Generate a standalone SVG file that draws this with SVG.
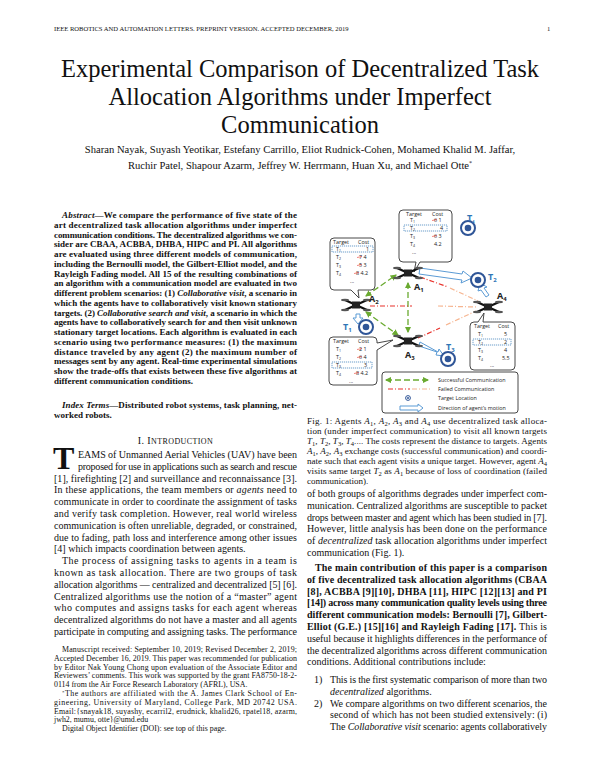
<svg xmlns="http://www.w3.org/2000/svg" width="600" height="776" viewBox="0 0 600 776">
<style>
text{font-family:"Liberation Serif","Times New Roman",serif;fill:#111}
.hd{font-size:6.6px}
.ti{font-size:24.5px;text-anchor:middle}
.au{font-size:10.6px;text-anchor:middle}
.ab{font-size:9px;font-weight:bold}
.b{font-size:10px}
.fn{font-size:7.9px}
.cp{font-size:9px}
.it{font-style:italic}
.bd{font-weight:bold}
.f{font-family:"Open Sans","DejaVu Sans",sans-serif;font-size:5.4px;fill:#222}
.fl{font-family:"Open Sans","DejaVu Sans",sans-serif;font-size:9px;font-weight:bold;fill:#222}
.fb{font-family:"Open Sans","DejaVu Sans",sans-serif;font-size:9px;font-weight:bold;fill:#2e75b6}
.call{fill:#fff;stroke:#333;stroke-width:0.9}
.sel{fill:none;stroke:#2e75b6;stroke-width:0.7;stroke-dasharray:1.2 0.8}
.ok{stroke:#6aaa30;stroke-width:1.3;stroke-dasharray:6 3;fill:none}
.bad{stroke:#e8302a;stroke-width:1.2;stroke-dasharray:5 2 1 2;fill:none}
.fade{stroke:#f6b48f;stroke-width:1.2;stroke-dasharray:5 2 1 2;fill:none}
.mv{fill:#fff;stroke:#5b9bd5;stroke-width:1}
.st{stroke:#e8302a;stroke-width:0.6}
</style>
<defs>
<marker id="ag" viewBox="0 0 6 6" refX="5" refY="3" markerWidth="5" markerHeight="5" orient="auto-start-reverse"><path d="M0,0L6,3L0,6z" fill="#6aaa30"/></marker>
<g id="tgt"><circle r="7" fill="#fff" stroke="#2f5597" stroke-width="2"/><circle r="3.3" fill="#2f5597"/></g>
<g id="drone"><path d="M-11,-5L11,5M-11,5L11,-5" stroke="#111" stroke-width="2.2"/><ellipse cx="-11" cy="-5" rx="4" ry="1.2" fill="#555"/><ellipse cx="11" cy="-5" rx="4" ry="1.2" fill="#555"/><ellipse cx="-11" cy="5" rx="4" ry="1.2" fill="#555"/><ellipse cx="11" cy="5" rx="4" ry="1.2" fill="#555"/><rect x="-4" y="-3.5" width="8" height="7" fill="#222"/></g>
</defs>

<g id="header">
<text class="hd" x="54" y="31">IEEE ROBOTICS AND AUTOMATION LETTERS. PREPRINT VERSION. ACCEPTED DECEMBER, 2019</text>
<text class="hd" x="547" y="31">1</text>
</g>
<g id="title">
<text class="ti" x="300" y="77">Experimental Comparison of Decentralized Task</text>
<text class="ti" x="300" y="105">Allocation Algorithms under Imperfect</text>
<text class="ti" x="300" y="133">Communication</text>
<text class="au" x="300" y="153">Sharan Nayak, Suyash Yeotikar, Estefany Carrillo, Eliot Rudnick-Cohen, Mohamed Khalid M. Jaffar,</text>
<text class="au" x="300" y="169">Ruchir Patel, Shapour Azarm, Jeffrey W. Herrmann, Huan Xu, and Michael Otte<tspan font-size="6" dy="-4">*</tspan></text>
</g>

<g id="abstract">
<text class="ab" x="62" y="218" textLength="235" lengthAdjust="spacing"><tspan class="it">Abstract</tspan>—We compare the performance of five state of the</text>
<text class="ab" x="54" y="227.8" textLength="243" lengthAdjust="spacing">art decentralized task allocation algorithms under imperfect</text>
<text class="ab" x="54" y="237.5" textLength="243" lengthAdjust="spacing">communication conditions. The decentralized algorithms we con-</text>
<text class="ab" x="54" y="247.3" textLength="243" lengthAdjust="spacing">sider are CBAA, ACBBA, DHBA, HIPC and PI. All algorithms</text>
<text class="ab" x="54" y="257" textLength="243" lengthAdjust="spacing">are evaluated using three different models of communication,</text>
<text class="ab" x="54" y="266.8" textLength="243" lengthAdjust="spacing">including the Bernoulli model, the Gilbert-Elliot model, and the</text>
<text class="ab" x="54" y="276.5" textLength="243" lengthAdjust="spacing">Rayleigh Fading model. All 15 of the resulting combinations of</text>
<text class="ab" x="54" y="286.3" textLength="243" lengthAdjust="spacing">an algorithm with a communication model are evaluated in two</text>
<text class="ab" x="54" y="296" textLength="243" lengthAdjust="spacing">different problem scenarios: (1) <tspan class="it">Collaborative visit</tspan>, a scenario in</text>
<text class="ab" x="54" y="305.8" textLength="243" lengthAdjust="spacing">which the agents have to collaboratively visit known stationary</text>
<text class="ab" x="54" y="315.5" textLength="243" lengthAdjust="spacing">targets. (2) <tspan class="it">Collaborative search and visit</tspan>, a scenario in which the</text>
<text class="ab" x="54" y="325.3" textLength="243" lengthAdjust="spacing">agents have to collaboratively search for and then visit unknown</text>
<text class="ab" x="54" y="335" textLength="243" lengthAdjust="spacing">stationary target locations. Each algorithm is evaluated in each</text>
<text class="ab" x="54" y="344.8" textLength="243" lengthAdjust="spacing">scenario using two performance measures: (1) the maximum</text>
<text class="ab" x="54" y="354.5" textLength="243" lengthAdjust="spacing">distance traveled by any agent (2) the maximum number of</text>
<text class="ab" x="54" y="364.3" textLength="243" lengthAdjust="spacing">messages sent by any agent. Real-time experimental simulations</text>
<text class="ab" x="54" y="374" textLength="243" lengthAdjust="spacing">show the trade-offs that exists between these five algorithms at</text>
<text class="ab" x="54" y="383.8">different communication conditions.</text>
<text class="ab" x="62" y="408" textLength="235" lengthAdjust="spacing"><tspan class="it">Index Terms</tspan>—Distributed robot systems, task planning, net-</text>
<text class="ab" x="54" y="418">worked robots.</text>
</g>

<g id="intro">
<text class="b" x="175.5" y="444" text-anchor="middle" letter-spacing="0.4">I. I<tspan font-size="8">NTRODUCTION</tspan></text>
<text x="53" y="468.5" font-size="32" font-weight="bold">T</text>
<text class="b" x="78" y="458" textLength="219" lengthAdjust="spacing">EAMS of Unmanned Aerial Vehicles (UAV) have been</text>
<text class="b" x="78" y="469.8" textLength="219" lengthAdjust="spacing">proposed for use in applications such as search and rescue</text>
<text class="b" x="54" y="481.6" textLength="243" lengthAdjust="spacing">[1], firefighting [2] and surveillance and reconnaissance [3].</text>
<text class="b" x="54" y="493.4" textLength="243" lengthAdjust="spacing">In these applications, the team members or <tspan class="it">agents</tspan> need to</text>
<text class="b" x="54" y="505.2" textLength="243" lengthAdjust="spacing">communicate in order to coordinate the assignment of tasks</text>
<text class="b" x="54" y="517" textLength="243" lengthAdjust="spacing">and verify task completion. However, real world wireless</text>
<text class="b" x="54" y="528.8" textLength="243" lengthAdjust="spacing">communication is often unreliable, degraded, or constrained,</text>
<text class="b" x="54" y="540.6" textLength="243" lengthAdjust="spacing">due to fading, path loss and interference among other issues</text>
<text class="b" x="54" y="552.4">[4] which impacts coordination between agents.</text>
<text class="b" x="62" y="564.2" textLength="235" lengthAdjust="spacing">The process of assigning tasks to agents in a team is</text>
<text class="b" x="54" y="576" textLength="243" lengthAdjust="spacing">known as task allocation. There are two groups of task</text>
<text class="b" x="54" y="587.8" textLength="243" lengthAdjust="spacing">allocation algorithms — centralized and decentralized [5] [6].</text>
<text class="b" x="54" y="599.6" textLength="243" lengthAdjust="spacing">Centralized algorithms use the notion of a “master” agent</text>
<text class="b" x="54" y="611.4" textLength="243" lengthAdjust="spacing">who computes and assigns tasks for each agent whereas</text>
<text class="b" x="54" y="623.2" textLength="243" lengthAdjust="spacing">decentralized algorithms do not have a master and all agents</text>
<text class="b" x="54" y="635" textLength="243" lengthAdjust="spacing">participate in computing and assigning tasks. The performance</text>
</g>

<g id="footnotes">
<text class="fn" x="62" y="652" textLength="235" lengthAdjust="spacing">Manuscript received: September 10, 2019; Revised December 2, 2019;</text>
<text class="fn" x="54" y="660.8" textLength="243" lengthAdjust="spacing">Accepted December 16, 2019. This paper was recommended for publication</text>
<text class="fn" x="54" y="669.6" textLength="243" lengthAdjust="spacing">by Editor Nak Young Chong upon evaluation of the Associate Editor and</text>
<text class="fn" x="54" y="678.4" textLength="243" lengthAdjust="spacing">Reviewers’ comments. This work was supported by the grant FA8750-18-2-</text>
<text class="fn" x="54" y="687.2">0114 from the Air Force Research Laboratory (AFRL), USA.</text>
<text class="fn" x="62" y="696" textLength="235" lengthAdjust="spacing"><tspan font-size="5" dy="-2.5">*</tspan><tspan dy="2.5">The authors are affiliated with the A. James Clark School of En-</tspan></text>
<text class="fn" x="54" y="704.8" textLength="243" lengthAdjust="spacing">gineering, University of Maryland, College Park, MD 20742 USA.</text>
<text class="fn" x="54" y="713.6" textLength="243" lengthAdjust="spacing">Email:{snayak18, suyashy, ecarril2, erudnick, khalid26, rpatel18, azarm,</text>
<text class="fn" x="54" y="722.4">jwh2, mumu, otte}@umd.edu</text>
<text class="fn" x="62" y="731.2">Digital Object Identifier (DOI): see top of this page.</text>
</g>

<g id="figure">
<g id="connectors">
<line class="ok" x1="366" y1="296" x2="396" y2="275" marker-start="url(#ag)" marker-end="url(#ag)"/>
<line class="ok" x1="366" y1="312" x2="398" y2="335" marker-start="url(#ag)" marker-end="url(#ag)"/>
<line class="ok" x1="408" y1="283" x2="408" y2="332" marker-start="url(#ag)" marker-end="url(#ag)"/>
<line class="bad" x1="420" y1="277" x2="448" y2="287"/>
<line class="fade" x1="450" y1="288" x2="478" y2="301"/>
<line class="bad" x1="370" y1="306" x2="412" y2="306"/>
<line class="fade" x1="438" y1="306" x2="476" y2="307"/>
<line class="bad" x1="418" y1="338" x2="440" y2="328"/>
<line class="fade" x1="446" y1="325" x2="476" y2="311"/>
<path class="mv" d="M420,268 L462,274 L463,271 L472,278 L461,283 L462,280 L419,274z"/>
<path class="mv" d="M486,297 L481,290 L478,291 L480,283 L487,287 L484,288 L489,295z"/>
<path class="mv" d="M356,314 L356,318 L353,318 L358,324 L363,318 L360,318 L360,314z"/>
<path class="mv" d="M419,346 L437,352 L436,355 L444,356 L439,349 L438,352 L420,342z"/>
</g>
<g id="A1">
<path class="call" d="M403,210 h45 a4,4 0 0 1 4,4 v44 a4,4 0 0 1 -4,4 h-28 l-6,10 l2,-10 h-13 a4,4 0 0 1 -4,-4 v-44 a4,4 0 0 1 4,-4z"/>
<text class="f" x="406" y="215.5">Target</text><text class="f" x="432" y="215.5">Cost</text>
<text class="f" x="410" y="222">T<tspan font-size="3.5" dy="1">1</tspan></text><text class="f" x="434" y="222">6 1</text><line class="st" x1="432" y1="220.5" x2="437" y2="219.5"/>
<rect class="sel" x="404" y="225" width="43" height="6"/>
<text class="f" x="410" y="230" fill="#2e75b6">T<tspan font-size="3.5" dy="1">2</tspan></text><text class="f" x="440" y="230" fill="#2e75b6">4</text>
<text class="f" x="410" y="238">T<tspan font-size="3.5" dy="1">3</tspan></text><text class="f" x="434" y="238">6 3</text><line class="st" x1="432" y1="236.5" x2="437" y2="235.5"/>
<text class="f" x="410" y="246">T<tspan font-size="3.5" dy="1">4</tspan></text><text class="f" x="434" y="246">4.2</text>
<text class="f" x="412" y="254">...</text>
<use href="#drone" x="408" y="273"/>
<text class="fl" x="414" y="290">A<tspan font-size="6" dy="2">1</tspan></text>
</g>
<g id="A2">
<path class="call" d="M334,238 h37 a4,4 0 0 1 4,4 v44 a4,4 0 0 1 -4,4 h-13 l1,8 l-8,-8 h-17 a4,4 0 0 1 -4,-4 v-44 a4,4 0 0 1 4,-4z"/>
<text class="f" x="333" y="244">Target</text><text class="f" x="358" y="244">Cost</text>
<rect class="sel" x="332" y="246" width="41" height="6"/>
<text class="f" x="336" y="251" fill="#2e75b6">T<tspan font-size="3.5" dy="1">1</tspan></text><text class="f" x="366" y="251" fill="#2e75b6">1</text>
<text class="f" x="336" y="259">T<tspan font-size="3.5" dy="1">2</tspan></text><text class="f" x="359" y="259">7 4</text><line class="st" x1="357" y1="257.5" x2="362" y2="256.5"/>
<text class="f" x="336" y="267">T<tspan font-size="3.5" dy="1">3</tspan></text><text class="f" x="359" y="267">5 3</text><line class="st" x1="357" y1="265.5" x2="362" y2="264.5"/>
<text class="f" x="336" y="275">T<tspan font-size="3.5" dy="1">4</tspan></text><text class="f" x="356" y="275">8 4.2</text><line class="st" x1="354" y1="273.5" x2="359" y2="272.5"/>
<text class="f" x="350" y="283">...</text>
<use href="#drone" x="356" y="305"/>
<text class="fl" x="369" y="302">A<tspan font-size="6" dy="2">2</tspan></text>
</g>
<g id="A3">
<path class="call" d="M333,337 h40 a4,4 0 0 1 4,4 v2 l16,-3 l-16,10 v31 a4,4 0 0 1 -4,4 h-40 a4,4 0 0 1 -4,-4 v-40 a4,4 0 0 1 4,-4z"/>
<text class="f" x="333" y="343">Target</text><text class="f" x="358" y="343">Cost</text>
<text class="f" x="336" y="351">T<tspan font-size="3.5" dy="1">1</tspan></text><text class="f" x="359" y="351">2 1</text><line class="st" x1="357" y1="349.5" x2="362" y2="348.5"/>
<text class="f" x="336" y="359">T<tspan font-size="3.5" dy="1">2</tspan></text><text class="f" x="359" y="359">6 4</text><line class="st" x1="357" y1="357.5" x2="362" y2="356.5"/>
<rect class="sel" x="332" y="362" width="40" height="6"/>
<text class="f" x="336" y="367" fill="#2e75b6">T<tspan font-size="3.5" dy="1">3</tspan></text><text class="f" x="364" y="367" fill="#2e75b6">3</text>
<text class="f" x="336" y="375">T<tspan font-size="3.5" dy="1">4</tspan></text><text class="f" x="356" y="375">8 4.2</text><line class="st" x1="354" y1="373.5" x2="359" y2="372.5"/>
<text class="f" x="349" y="383">...</text>
<use href="#drone" x="408" y="341"/>
<text class="fl" x="405" y="358">A<tspan font-size="6" dy="2">3</tspan></text>
</g>
<g id="A4">
<path class="call" d="M474,322 h4 l6,-9 l-1,9 h28 a4,4 0 0 1 4,4 v40 a4,4 0 0 1 -4,4 h-37 a4,4 0 0 1 -4,-4 v-40 a4,4 0 0 1 4,-4z"/>
<text class="f" x="474" y="328">Target</text><text class="f" x="498" y="328">Cost</text>
<text class="f" x="478" y="336">T<tspan font-size="3.5" dy="1">1</tspan></text><text class="f" x="504" y="336">5</text>
<rect class="sel" x="473" y="339" width="38" height="6"/>
<text class="f" x="478" y="344" fill="#2e75b6">T<tspan font-size="3.5" dy="1">2</tspan></text><text class="f" x="504" y="344" fill="#2e75b6">2</text>
<text class="f" x="478" y="352">T<tspan font-size="3.5" dy="1">3</tspan></text><text class="f" x="504" y="352">4</text>
<text class="f" x="478" y="360">T<tspan font-size="3.5" dy="1">4</tspan></text><text class="f" x="502" y="360">5.5</text>
<text class="f" x="490" y="367">...</text>
<use href="#drone" x="488" y="307"/>
<text class="fl" x="497" y="299">A<tspan font-size="6" dy="2">4</tspan></text>
</g>
<g id="T1"><use href="#tgt" x="366" y="327"/><text class="fb" x="343" y="330">T<tspan font-size="6" dy="2">1</tspan></text></g>
<g id="T2"><use href="#tgt" x="478" y="280"/><text class="fb" x="488" y="280">T<tspan font-size="6" dy="2">2</tspan></text></g>
<g id="T3"><use href="#tgt" x="448" y="359"/><text class="fb" x="446" y="350">T<tspan font-size="6" dy="2">3</tspan></text></g>
<g id="T4"><use href="#tgt" x="468" y="228"/><text class="fb" x="467" y="221" font-size="6">T<tspan font-size="4" dy="1.5">4</tspan></text></g>
<g id="legend">
<rect x="382" y="372" width="136" height="41" rx="3" fill="#fff" stroke="#333" stroke-width="0.9"/>
<line class="ok" x1="386" y1="380" x2="428" y2="380" marker-start="url(#ag)" marker-end="url(#ag)"/>
<text class="f" x="438" y="382">Successful Communication</text>
<line class="bad" x1="388" y1="389" x2="410" y2="389"/><line class="fade" x1="412" y1="389" x2="430" y2="389"/>
<text class="f" x="438" y="391">Failed Communication</text>
<circle cx="408" cy="398" r="2.4" fill="#fff" stroke="#2f5597" stroke-width="1"/><circle cx="408" cy="398" r="1" fill="#2f5597"/>
<text class="f" x="438" y="400">Target Location</text>
<path class="mv" d="M400,406 h18 v-2 l5,4 l-5,4 v-2 h-18z"/>
<text class="f" x="438" y="410">Direction of agent’s motion</text>
</g>
</g>

<g id="caption">
<text class="cp" x="307" y="424" textLength="240" lengthAdjust="spacing">Fig. 1: Agents <tspan class="it">A</tspan><tspan font-size="6.5" dy="1.5">1</tspan><tspan dy="-1.5">, </tspan><tspan class="it">A</tspan><tspan font-size="6.5" dy="1.5">2</tspan><tspan dy="-1.5">, </tspan><tspan class="it">A</tspan><tspan font-size="6.5" dy="1.5">3</tspan><tspan dy="-1.5"> and </tspan><tspan class="it">A</tspan><tspan font-size="6.5" dy="1.5">4</tspan><tspan dy="-1.5"> use decentralized task alloca-</tspan></text>
<text class="cp" x="307" y="434" textLength="240" lengthAdjust="spacing">tion (under imperfect communication) to visit all known targets</text>
<text class="cp" x="307" y="444" textLength="240" lengthAdjust="spacing"><tspan class="it">T</tspan><tspan font-size="6.5" dy="1.5">1</tspan><tspan dy="-1.5">, </tspan><tspan class="it">T</tspan><tspan font-size="6.5" dy="1.5">2</tspan><tspan dy="-1.5">, </tspan><tspan class="it">T</tspan><tspan font-size="6.5" dy="1.5">3</tspan><tspan dy="-1.5">, </tspan><tspan class="it">T</tspan><tspan font-size="6.5" dy="1.5">4</tspan><tspan dy="-1.5">.... The costs represent the distance to targets. Agents</tspan></text>
<text class="cp" x="307" y="454" textLength="240" lengthAdjust="spacing"><tspan class="it">A</tspan><tspan font-size="6.5" dy="1.5">1</tspan><tspan dy="-1.5">, </tspan><tspan class="it">A</tspan><tspan font-size="6.5" dy="1.5">2</tspan><tspan dy="-1.5">, </tspan><tspan class="it">A</tspan><tspan font-size="6.5" dy="1.5">3</tspan><tspan dy="-1.5"> exchange costs (successful communication) and coordi-</tspan></text>
<text class="cp" x="307" y="464" textLength="240" lengthAdjust="spacing">nate such that each agent visits a unique target. However, agent <tspan class="it">A</tspan><tspan font-size="6.5" dy="1.5">4</tspan></text>
<text class="cp" x="307" y="474" textLength="240" lengthAdjust="spacing">visits same target <tspan class="it">T</tspan><tspan font-size="6.5" dy="1.5">2</tspan><tspan dy="-1.5"> as </tspan><tspan class="it">A</tspan><tspan font-size="6.5" dy="1.5">1</tspan><tspan dy="-1.5"> because of loss of coordination (failed</tspan></text>
<text class="cp" x="307" y="484">communication).</text>
</g>

<g id="rightcol">
<text class="b" x="307" y="497" textLength="240" lengthAdjust="spacing">of both groups of algorithms degrades under imperfect com-</text>
<text class="b" x="307" y="508.8" textLength="240" lengthAdjust="spacing">munication. Centralized algorithms are susceptible to packet</text>
<text class="b" x="307" y="520.6" textLength="240" lengthAdjust="spacing">drops between master and agent which has been studied in [7].</text>
<text class="b" x="307" y="532.4" textLength="240" lengthAdjust="spacing">However, little analysis has been done on the performance</text>
<text class="b" x="307" y="544.2" textLength="240" lengthAdjust="spacing">of <tspan class="it">decentralized</tspan> task allocation algorithms under imperfect</text>
<text class="b" x="307" y="556">communication (Fig. 1).</text>
<text class="b bd" x="315" y="571" textLength="232" lengthAdjust="spacing">The main contribution of this paper is a comparison</text>
<text class="b bd" x="307" y="582.8" textLength="240" lengthAdjust="spacing">of five decentralized task allocation algorithms (CBAA</text>
<text class="b bd" x="307" y="594.6" textLength="240" lengthAdjust="spacing">[8], ACBBA [9][10], DHBA [11], HIPC [12][13] and PI</text>
<text class="b bd" x="307" y="606.4" textLength="240" lengthAdjust="spacing">[14]) across many communication quality levels using three</text>
<text class="b bd" x="307" y="618.2" textLength="240" lengthAdjust="spacing">different communication models: Bernoulli [7], Gilbert-</text>
<text class="b" x="307" y="630" textLength="240" lengthAdjust="spacing"><tspan class="bd">Elliot (G.E.) [15][16] and Rayleigh Fading [17].</tspan> This is</text>
<text class="b" x="307" y="641.8" textLength="240" lengthAdjust="spacing">useful because it highlights differences in the performance of</text>
<text class="b" x="307" y="653.6" textLength="240" lengthAdjust="spacing">the decentralized algorithms across different communication</text>
<text class="b" x="307" y="665.4">conditions. Additional contributions include:</text>
<text class="b" x="314" y="683">1)</text>
<text class="b" x="330" y="683" textLength="217" lengthAdjust="spacing">This is the first systematic comparison of more than two</text>
<text class="b" x="330" y="694.8"><tspan class="it">decentralized</tspan> algorithms.</text>
<text class="b" x="314" y="706.6">2)</text>
<text class="b" x="330" y="706.6" textLength="217" lengthAdjust="spacing">We compare algorithms on two different scenarios, the</text>
<text class="b" x="330" y="718.4" textLength="217" lengthAdjust="spacing">second of which has not been studied extensively: (i)</text>
<text class="b" x="330" y="730.2" textLength="217" lengthAdjust="spacing">The <tspan class="it">Collaborative visit</tspan> scenario: agents collaboratively</text>
</g>
</svg>
